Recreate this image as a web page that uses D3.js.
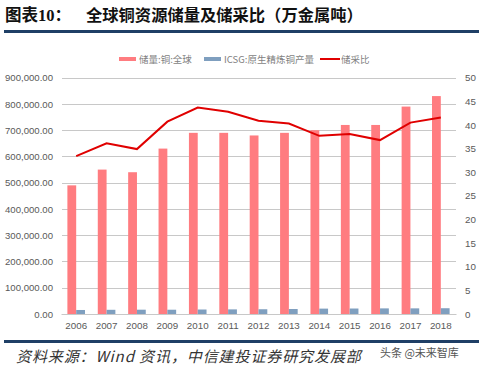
<!DOCTYPE html>
<html><head><meta charset="utf-8">
<script src="https://cdn.jsdelivr.net/npm/d3@7"></script>
<style>html,body{margin:0;padding:0;background:#fff;}svg{display:block;}</style>
</head><body>
<script>
const years = ["2006","2007","2008","2009","2010","2011","2012","2013","2014","2015","2016","2017","2018"];
const reserves = [490000,550000,540000,630000,690000,690000,680000,690000,700000,720000,720000,790000,830000];
const production = [15300,16000,16400,16300,17100,17600,18100,19000,20500,20900,21400,21500,22000];
const ratio = [33.4,36.1,34.9,40.7,43.7,42.8,40.9,40.3,37.7,38.1,36.8,40.5,41.6];
const leftTicks = [0,100000,200000,300000,400000,500000,600000,700000,800000,900000];
const rightTicks = [0,5,10,15,20,25,30,35,40,45,50];
const seriesNames = ["储量:铜:全球","ICSG:原生精炼铜产量","储采比"];
const titleA = "图表10：", titleB = "全球铜资源储量及储采比（万金属吨）";
const source = "资料来源：Wind 资讯，中信建投证券研究发展部";
const watermark = "头条 @未来智库";

const W=479,H=367;
const svg=d3.select("body").append("svg").attr("width",W).attr("height",H);
const font="'Noto Sans CJK SC','Noto Sans',sans-serif";
const axFont="'Liberation Sans',Arial,sans-serif";

// title
svg.append("text").attr("x",5).attr("y",21).attr("font-family","'Liberation Serif','Noto Sans CJK SC',serif")
  .attr("font-weight","bold").attr("font-size",16.5).attr("fill","#111").text(titleA);
svg.append("text").attr("x",86).attr("y",21).attr("font-family",font)
  .attr("font-weight","bold").attr("font-size",16.3).attr("fill","#111").text(titleB);
svg.append("rect").attr("x",4).attr("y",30).attr("width",W-4).attr("height",3).attr("fill","#1f3f66");

const m={l:61,r:456,t:77.7,b:314};
const x=d3.scaleBand().domain(years).range([m.l,m.r]);
const yL=d3.scaleLinear().domain([0,900000]).range([m.b,m.t]);
const yR=d3.scaleLinear().domain([0,50]).range([m.b,m.t]);

// gridlines
svg.append("g").selectAll("line").data(leftTicks.filter(d=>d>0)).join("line")
  .attr("x1",m.l+1).attr("x2",m.r).attr("y1",d=>Math.round(yL(d))+0.5).attr("y2",d=>Math.round(yL(d))+0.5)
  .attr("stroke","#c8c8c8").attr("stroke-width",1);

// left axis
const axL=svg.append("g").attr("transform",`translate(${m.l},0)`)
  .call(d3.axisLeft(yL).tickValues(leftTicks).tickFormat(d3.format(",.2f")).tickSize(0).tickPadding(8));
axL.select(".domain").remove();
axL.selectAll("text").attr("font-family",axFont).attr("font-size",9.6).attr("fill","#595959");

// right axis
const axR=svg.append("g").attr("transform",`translate(${m.r},0)`)
  .call(d3.axisRight(yR).tickValues(rightTicks).tickSize(0).tickPadding(9));
axR.select(".domain").remove();
axR.selectAll("text").attr("font-family",axFont).attr("font-size",9.8).attr("fill","#595959");

// bars
const bw=8.8;
svg.append("g").selectAll("rect").data(years).join("rect")
  .attr("x",d=>x(d)+x.bandwidth()/2-bw).attr("width",bw)
  .attr("y",(d,i)=>yL(reserves[i])).attr("height",(d,i)=>m.b-yL(reserves[i]))
  .attr("fill","#ff7c80");
svg.append("g").selectAll("rect").data(years).join("rect")
  .attr("x",d=>x(d)+x.bandwidth()/2).attr("width",bw)
  .attr("y",(d,i)=>yL(production[i])).attr("height",(d,i)=>m.b-yL(production[i]))
  .attr("fill","#7f9fbf");

// x axis
const axB=svg.append("g").attr("transform",`translate(0,${m.b})`)
  .call(d3.axisBottom(x).tickSize(0).tickPadding(8));
axB.select(".domain").attr("stroke","#c8c8c8");
axB.selectAll("text").attr("font-family",axFont).attr("font-size",9.8).attr("fill","#595959");

// ratio line
svg.append("path").datum(ratio)
  .attr("d",d3.line().x((d,i)=>x(years[i])+x.bandwidth()/2).y(d=>yR(d)))
  .attr("fill","none").attr("stroke","#e00000").attr("stroke-width",2);

// legend
const lg=svg.append("g").attr("font-family",font).attr("font-size",9.5).attr("fill","#7f7f7f");
const items=[{x:119,type:"bar",c:"#ff7c80"},{x:204,type:"bar",c:"#7f9fbf"},{x:320,type:"line",c:"#e00000"}];
items.forEach((it,i)=>{
  if(it.type==="bar") lg.append("rect").attr("x",it.x).attr("y",57).attr("width",17).attr("height",4).attr("fill",it.c);
  else lg.append("line").attr("x1",it.x).attr("x2",it.x+20).attr("y1",59).attr("y2",59).attr("stroke",it.c).attr("stroke-width",2);
  lg.append("text").attr("x",it.x+(it.type==="bar"?20:21)).attr("y",62.5).text(seriesNames[i]);
});

// footer
svg.append("rect").attr("x",4).attr("y",340).attr("width",W-4).attr("height",3).attr("fill","#1f3f66");
svg.append("text").attr("x",16).attr("y",362).attr("font-family",font).attr("font-style","italic")
  .attr("font-size",15).attr("letter-spacing",0.9).attr("fill","#333").text(source);
svg.append("text").attr("x",380).attr("y",357).attr("font-family",font)
  .attr("font-size",11).attr("fill","#555").text(watermark);
</script>
</body></html>
